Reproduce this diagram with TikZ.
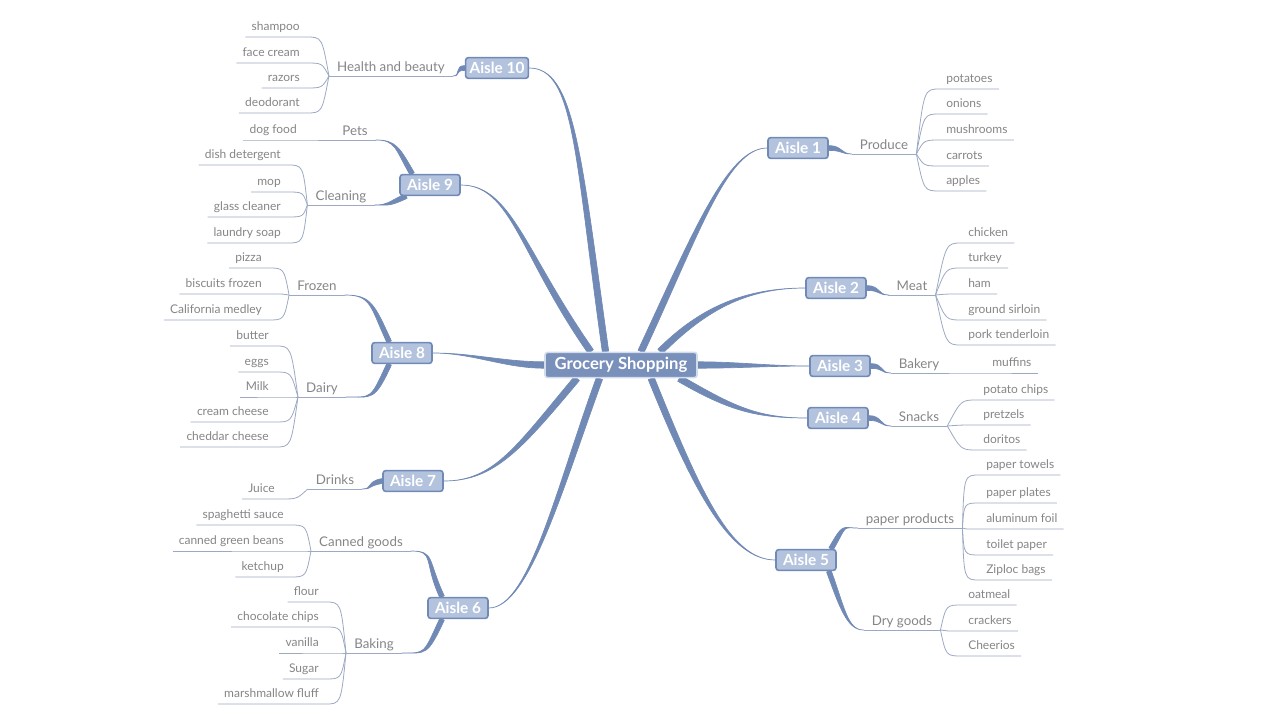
\documentclass[tikz,border=0pt]{standalone}
\usepackage{fontspec}
\setmainfont{Lato}
\usetikzlibrary{calc,backgrounds}

\definecolor{branchblue}{HTML}{7189B5}
\definecolor{rootfill}{HTML}{7990BB}
\definecolor{rootedge}{HTML}{D3DCEB}
\definecolor{aislefill}{HTML}{B3C3DE}
\definecolor{leafline}{HTML}{9CA9C2}
\definecolor{leaftext}{HTML}{858585}

% tapered branch: from, out angle, out length, to, in angle, in length, half width
\newcommand{\taper}[7]{%
  \filldraw[branch] ($(#1)+({#2+90}:#7)$)
    .. controls ($(#1)+(#2:#3)+({#2+90}:#7)$) and ($(#4)+(#5:#6)$) .. (#4)
    .. controls ($(#4)+(#5:#6)$) and ($(#1)+(#2:#3)+({#2-90}:#7)$) .. ($(#1)+({#2-90}:#7)$) -- cycle;}

\begin{document}
\begin{tikzpicture}[x=0.75pt,y=-0.75pt,
  branch/.style={fill=branchblue,draw=branchblue,line width=0.5pt,line join=round},
  twig/.style={draw=leafline,line width=0.6pt},
  root/.style={fill=rootfill,draw=rootedge,line width=1.2pt,rounded corners=2pt,text=white,
    font=\bfseries\fontsize{12.5}{14}\selectfont,minimum width=114pt,minimum height=19pt},
  aisle/.style={fill=aislefill,draw=branchblue,line width=1.2pt,rounded corners=2pt,text=white,
    font=\bfseries\fontsize{11.5}{13}\selectfont,minimum width=45pt,minimum height=15.5pt,inner xsep=3pt},
  cat/.style={anchor=south,text=leaftext,font=\fontsize{10}{12}\selectfont,inner xsep=6pt,inner ysep=1pt,text depth=2pt},
  leaf/.style={text=leaftext,font=\fontsize{9}{10}\selectfont,inner xsep=4.5pt,inner ysep=2.5pt,text depth=2pt},
  leafL/.style={leaf,anchor=south east},
  leafR/.style={leaf,anchor=south west}]
  \useasboundingbox (0,0) rectangle (1280,720);

  % centre and aisles
  \node[root] (ctr) at (621,365) {Grocery Shopping};
  \node[aisle] (a1) at (798,148) {Aisle 1};
  \node[aisle] (a2) at (836,288) {Aisle 2};
  \node[aisle] (a3) at (840,366) {Aisle 3};
  \node[aisle] (a4) at (838,418) {Aisle 4};
  \node[aisle] (a5) at (806,560) {Aisle 5};
  \node[aisle] (a6) at (458,608) {Aisle 6};
  \node[aisle] (a7) at (413,481) {Aisle 7};
  \node[aisle] (a8) at (402,353) {Aisle 8};
  \node[aisle] (a9) at (430,185) {Aisle 9};
  \node[aisle] (a10) at (497,68) {Aisle 10};

  % categories
  \node[cat] (hb) at (391,76) {Health and beauty};
  \node[cat] (pets) at (355,140) {Pets};
  \node[cat] (clean) at (341,205) {Cleaning};
  \node[cat] (frozen) at (317,295) {Frozen};
  \node[cat] (dairy) at (322,397) {Dairy};
  \node[cat] (drinks) at (335,489) {Drinks};
  \node[cat] (canned) at (361,551) {Canned goods};
  \node[cat] (baking) at (374,653) {Baking};
  \node[cat] (produce) at (884,154) {Produce};
  \node[cat] (meat) at (912,295) {Meat};
  \node[cat] (bakery) at (919,373) {Bakery};
  \node[cat] (snacks) at (919,426) {Snacks};
  \node[cat] (paper) at (910,528) {paper products};
  \node[cat] (dry) at (902,630) {Dry goods};

  % left items
  \node[leafL] (shampoo) at (306,37) {shampoo};
  \node[leafL] (facecream) at (306,63) {face cream};
  \node[leafL] (razors) at (306,88) {razors};
  \node[leafL] (deodorant) at (306,113) {deodorant};
  \node[leafL] (dogfood) at (303,140) {dog food};
  \node[leafL] (dish) at (287,165) {dish detergent};
  \node[leafL] (mop) at (287,192) {mop};
  \node[leafL] (glass) at (287,217) {glass cleaner};
  \node[leafL] (laundry) at (287,243) {laundry soap};
  \node[leafL] (pizza) at (268,268) {pizza};
  \node[leafL] (biscuits) at (268,294) {biscuits frozen};
  \node[leafL] (medley) at (268,320) {California medley};
  \node[leafL] (butter) at (275,346) {butter};
  \node[leafL] (eggs) at (275,372) {eggs};
  \node[leafL] (milk) at (275,397) {Milk};
  \node[leafL] (cream) at (275,422) {cream cheese};
  \node[leafL] (cheddar) at (275,447) {cheddar cheese};
  \node[leafL] (juice) at (281,499) {Juice};
  \node[leafL] (spaghetti) at (290,525) {spaghetti sauce};
  \node[leafL] (beans) at (290,551) {canned green beans};
  \node[leafL] (ketchup) at (290,577) {ketchup};
  \node[leafL] (flour) at (325,602) {flour};
  \node[leafL] (choc) at (325,627) {chocolate chips};
  \node[leafL] (vanilla) at (325,653) {vanilla};
  \node[leafL] (sugar) at (325,679) {Sugar};
  \node[leafL] (fluff) at (325,704) {marshmallow fluff};

  % right items
  \node[leafR] (potatoes) at (940,89) {potatoes};
  \node[leafR] (onions) at (940,114) {onions};
  \node[leafR] (mushrooms) at (940,140) {mushrooms};
  \node[leafR] (carrots) at (940,166) {carrots};
  \node[leafR] (apples) at (940,191) {apples};
  \node[leafR] (chicken) at (962,243) {chicken};
  \node[leafR] (turkey) at (962,268) {turkey};
  \node[leafR] (ham) at (962,294) {ham};
  \node[leafR] (sirloin) at (962,320) {ground sirloin};
  \node[leafR] (pork) at (962,345) {pork tenderloin};
  \node[leafR] (muffins) at (986,373) {muffins};
  \node[leafR] (chips) at (977,400) {potato chips};
  \node[leafR] (pretzels) at (977,425) {pretzels};
  \node[leafR] (doritos) at (977,450) {doritos};
  \node[leafR] (towels) at (980,475) {paper towels};
  \node[leafR] (plates) at (980,503) {paper plates};
  \node[leafR] (foil) at (980,529) {aluminum foil};
  \node[leafR] (toilet) at (980,555) {toilet paper};
  \node[leafR] (ziploc) at (980,580) {Ziploc bags};
  \node[leafR] (oatmeal) at (962,605) {oatmeal};
  \node[leafR] (crackers) at (962,631) {crackers};
  \node[leafR] (cheerios) at (962,656) {Cheerios};

  % underlines of the categories
  \foreach \n in {hb,pets,clean,frozen,dairy,drinks,canned,baking,produce,meat,bakery,snacks,paper,dry}
    \draw[twig] (\n.south west) -- (\n.south east);

  % fans on the left
  \foreach \n/\c in {shampoo/hb,facecream/hb,razors/hb,deodorant/hb,dogfood/pets,
      dish/clean,mop/clean,glass/clean,laundry/clean,pizza/frozen,biscuits/frozen,medley/frozen,
      butter/dairy,eggs/dairy,milk/dairy,cream/dairy,cheddar/dairy,juice/drinks,
      spaghetti/canned,beans/canned,ketchup/canned,flour/baking,choc/baking,vanilla/baking,
      sugar/baking,fluff/baking}
    \draw[twig] (\n.south west) -- (\n.south east) .. controls ([xshift=12pt]\n.south east) .. (\c.south west);

  % fans on the right
  \foreach \n/\c in {potatoes/produce,onions/produce,mushrooms/produce,carrots/produce,apples/produce,
      chicken/meat,turkey/meat,ham/meat,sirloin/meat,pork/meat,muffins/bakery,
      chips/snacks,pretzels/snacks,doritos/snacks,towels/paper,plates/paper,foil/paper,
      toilet/paper,ziploc/paper,oatmeal/dry,crackers/dry,cheerios/dry}
    \draw[twig] (\n.south east) -- (\n.south west) .. controls ([xshift=-12pt]\n.south west) .. (\c.south east);

  \begin{scope}[on background layer]
    % centre to aisles
    \taper{ctr.139}{98}{150pt}{a10.east}{0}{34pt}{2.4pt}
    \taper{ctr.156}{125}{90pt}{a9.east}{0}{38pt}{2.4pt}
    \taper{ctr.west}{180}{30pt}{a8.east}{0}{30pt}{2.4pt}
    \taper{ctr.197}{230}{68pt}{a7.east}{0}{38pt}{2.4pt}
    \taper{ctr.212}{250}{90pt}{a6.east}{0}{30pt}{2.4pt}
    \taper{ctr.34}{65}{98pt}{a1.west}{180}{30pt}{2.4pt}
    \taper{ctr.19}{45}{45pt}{a2.west}{180}{45pt}{2.4pt}
    \taper{ctr.east}{0}{30pt}{a3.west}{180}{30pt}{2.4pt}
    \taper{ctr.347}{-30}{45pt}{a4.west}{180}{38pt}{2.4pt}
    \taper{ctr.336}{-68}{90pt}{a5.west}{180}{34pt}{2.4pt}
    % aisles to categories
    \taper{a10.west}{180}{8pt}{hb.south east}{0}{6pt}{1.8pt}
    \taper{a9.148}{120}{22pt}{pets.south east}{0}{15pt}{1.8pt}
    \taper{a9.205}{205}{15pt}{clean.south east}{0}{10pt}{1.8pt}
    \taper{a8.139}{115}{30pt}{frozen.south east}{0}{20pt}{1.8pt}
    \taper{a8.221}{245}{30pt}{dairy.south east}{0}{20pt}{1.8pt}
    \taper{a7.west}{190}{12pt}{drinks.south east}{0}{8pt}{1.8pt}
    \taper{a6.145}{115}{30pt}{canned.south east}{0}{18pt}{1.8pt}
    \taper{a6.215}{245}{30pt}{baking.south east}{0}{18pt}{1.8pt}
    \taper{a1.east}{0}{10pt}{produce.south west}{180}{8pt}{1.8pt}
    \taper{a2.east}{0}{10pt}{meat.south west}{180}{8pt}{1.8pt}
    \taper{a3.east}{0}{10pt}{bakery.south west}{180}{8pt}{1.8pt}
    \taper{a4.east}{0}{10pt}{snacks.south west}{180}{8pt}{1.8pt}
    \taper{a5.24}{60}{22pt}{paper.south west}{180}{12pt}{1.8pt}
    \taper{a5.334}{-70}{30pt}{dry.south west}{180}{12pt}{1.8pt}
  \end{scope}
\end{tikzpicture}
\end{document}
